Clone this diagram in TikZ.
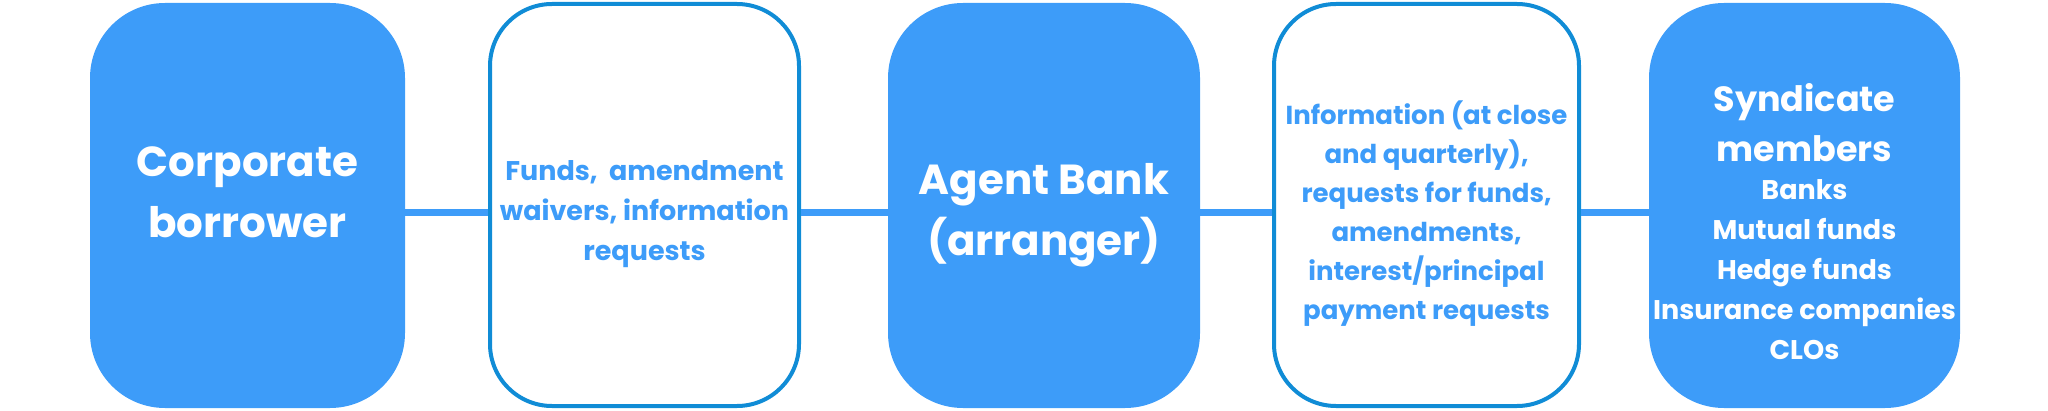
\documentclass[tikz,border=0pt]{standalone}
\usepackage{fontspec}
\setmainfont{Poppins}
\usetikzlibrary{calc}
\definecolor{LoanBlue}{RGB}{61,156,249}
\definecolor{EdgeBlue}{RGB}{16,140,214}
\tikzset{
  party/.style={fill=LoanBlue,rounded corners=75pt,minimum height=405pt,inner sep=0pt},
  flowbox/.style={draw=EdgeBlue,line width=4pt,fill=white,rounded corners=62pt,minimum height=402pt,inner sep=0pt},
  bigtxt/.style={text=white,font=\bfseries\fontsize{42}{61}\selectfont,align=center,inner sep=0pt,anchor=north},
  smalltxt/.style={text=LoanBlue,font=\bfseries\fontsize{27}{40}\selectfont,align=center,inner sep=0pt,anchor=north},
  link/.style={LoanBlue,line width=7pt},
}
\begin{document}
\begin{tikzpicture}[x=1pt,y=1pt]
  \useasboundingbox (0,0) rectangle (2048,410);
  % boxes
  \node[party,minimum width=315pt] (corp) at (247.5,204.5) {};
  \node[flowbox,minimum width=309pt] (inst) at (644.5,205) {};
  \node[party,minimum width=312pt] (agent) at (1044,204.5) {};
  \node[flowbox,minimum width=305pt] (info) at (1426.5,205) {};
  \node[party,minimum width=311pt] (synd) at (1804.5,204.5) {};
  % connectors
  \coordinate (mid) at (0,197);
  \draw[link] (corp.east |- mid) -- (inst.west |- mid);
  \draw[link] (inst.east |- mid) -- (agent.west |- mid);
  \draw[link] (agent.east |- mid) -- (info.west |- mid);
  \draw[link] (info.east |- mid) -- (synd.west |- mid);
  % texts
  \node[bigtxt] (corp-txt) at (247.5,264) {Corporate\\borrower};
  \node[smalltxt] (inst-txt) at (644.5,250) {Funds,~ amendment\\waivers, information\\requests};
  \node[bigtxt] (agent-txt) at (1044,247) {Agent Bank\\(arranger)};
  \node[smalltxt,font=\bfseries\fontsize{26}{39}\selectfont] (info-txt) at (1426.5,309)
    {Information (at close\\and quarterly),\\requests for funds,\\amendments,\\interest/principal\\payment requests};
  \node[bigtxt,font=\bfseries\fontsize{35}{50}\selectfont] (synd-txt) at (1804.5,327) {Syndicate\\members};
  \node[smalltxt,text=white] (synd-list) at (1804.5,231) {Banks\\Mutual funds\\Hedge funds\\Insurance companies\\CLOs};
\end{tikzpicture}
\end{document}
